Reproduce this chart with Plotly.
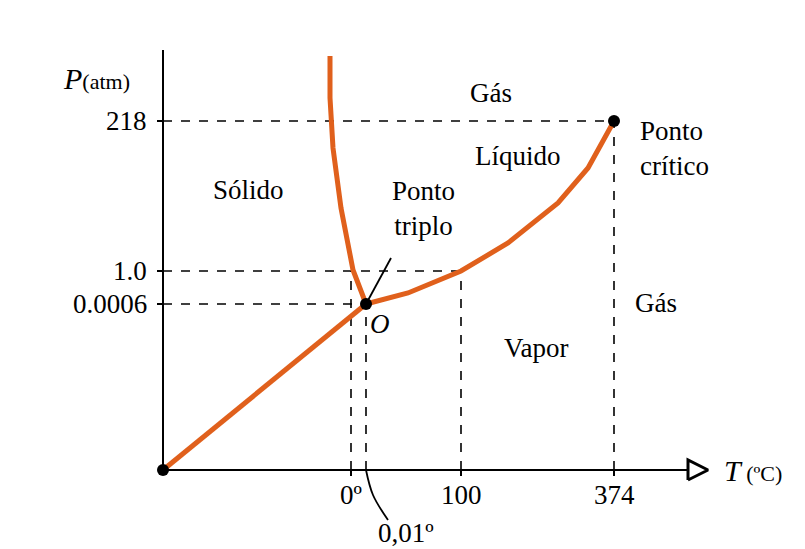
import plotly.graph_objects as go

# schematic coordinates (not to scale), origin at the lower-left corner
subl_x = [0, 203]
subl_y = [0, 166]
fus_x = [203, 190, 178, 170, 167, 167]
fus_y = [166, 200, 262, 322, 372, 414]
vap_x = [203, 245, 298, 345, 395, 425, 451]
vap_y = [166, 177, 199, 227, 267, 302, 349]

x_ticks = [188, 298, 451]
x_labels = ["0º", "100", "374"]
y_ticks = [349, 199, 166]
y_labels = ["218", "1.0", "0.0006"]
triple = (203, 166)
critical = (451, 349)

ORANGE = "#e0601c"
FONT = "Liberation Serif"

fig = go.Figure()

# dashed guide lines
dash = dict(color="black", width=1.6, dash="dash")
for yv, xend in [(349, 451), (199, 298), (166, 203)]:
    fig.add_trace(go.Scatter(x=[0, xend], y=[yv, yv], mode="lines", line=dash))
for xv, yend in [(188, 199), (203, 166), (298, 199), (451, 349)]:
    fig.add_trace(go.Scatter(x=[xv, xv], y=[0, yend], mode="lines", line=dash))

# axes
fig.add_trace(go.Scatter(x=[0, 0], y=[420, 0], mode="lines", line=dict(color="black", width=2)))
fig.add_trace(go.Scatter(x=[0, 525], y=[0, 0], mode="lines", line=dict(color="black", width=2)))
fig.add_trace(go.Scatter(x=[525, 525, 545, 525], y=[-10, 10, 0, -10], mode="lines",
                         line=dict(color="black", width=3)))
for yv in y_ticks:
    fig.add_trace(go.Scatter(x=[-6, 0], y=[yv, yv], mode="lines", line=dict(color="black", width=2)))
for xv in x_ticks:
    fig.add_trace(go.Scatter(x=[xv, xv], y=[0, -6], mode="lines", line=dict(color="black", width=2)))

# phase boundaries
for xs, ys in [(subl_x, subl_y), (fus_x, fus_y), (vap_x, vap_y)]:
    fig.add_trace(go.Scatter(x=xs, y=ys, mode="lines", line=dict(color=ORANGE, width=5)))

# leader lines
fig.add_trace(go.Scatter(x=[triple[0], 228], y=[triple[1], 212], mode="lines",
                         line=dict(color="black", width=1.8)))
fig.add_trace(go.Scatter(x=[203, 210, 225], y=[0, -25, -50], mode="lines", line=dict(color="black", width=1.8),
                         line_shape="spline"))

# points
fig.add_trace(go.Scatter(x=[0, triple[0], critical[0]], y=[0, triple[1], critical[1]], mode="markers",
                         marker=dict(color="black", size=12)))


def label(x, y, text, size=27, **kw):
    fig.add_annotation(x=x, y=y, text=text, showarrow=False,
                       font=dict(family=FONT, size=size, color="black"), **kw)


label(328, 377, "Gás")
label(355, 314, "Líquido")
label(85, 280, "Sólido")
label(260, 262, "Ponto<br>triplo", align="center")
label(217, 146, "<i>O</i>")
label(373, 122, "Vapor")
label(493, 167, "Gás")
label(475, 322, "Ponto<br>crítico", align="left", xanchor="left")
for xv, t in zip(x_ticks, x_labels):
    label(xv, -25, t)
label(243, -63, "0,01º")
for yv, t in zip(y_ticks, y_labels):
    label(-14, yv, t, xanchor="right")
label(-67, 392, "<i>P</i><span style='font-size:22px'>(atm)</span>", size=30)
label(590, 0, "<i>T</i><span style='font-size:22px'> (ºC)</span>", size=30)

fig.update_layout(
    width=805, height=549, margin=dict(l=0, r=0, t=0, b=0),
    paper_bgcolor="white", plot_bgcolor="white", showlegend=False,
    xaxis=dict(range=[-155, 650], visible=False),
    yaxis=dict(range=[-87, 462], visible=False),
)

fig.write_html("out.html")
